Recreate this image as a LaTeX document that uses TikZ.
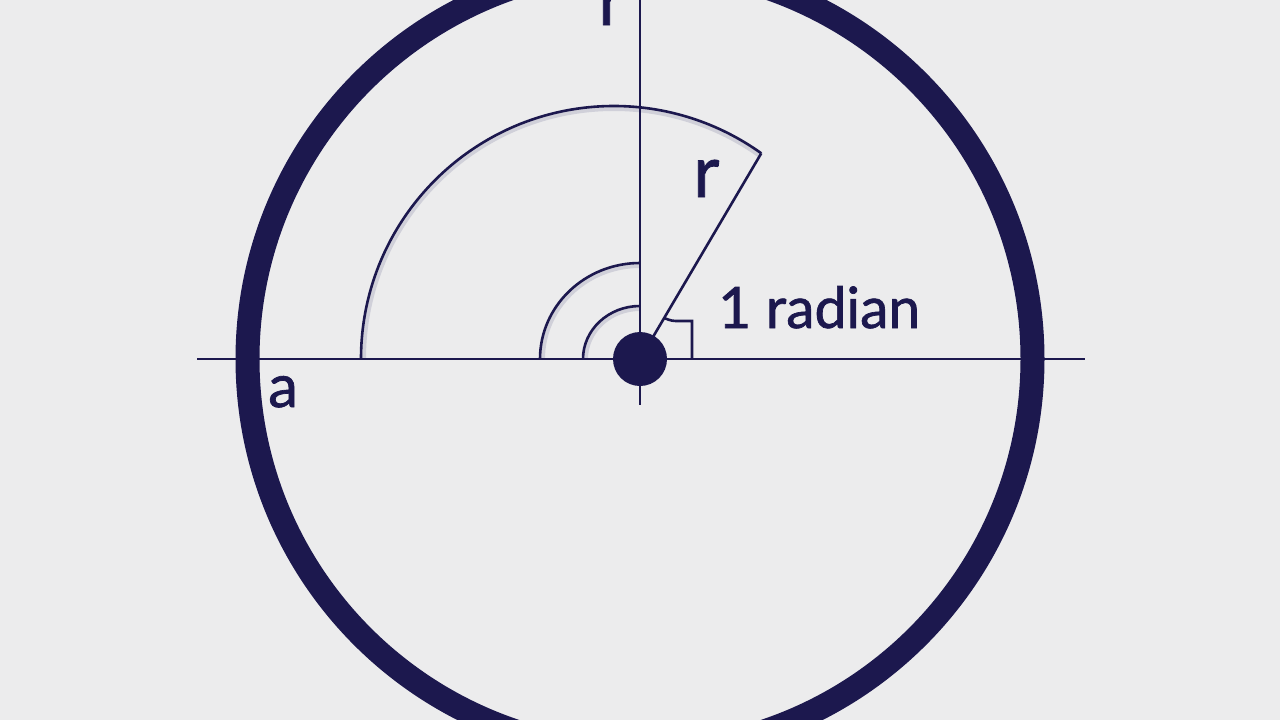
\documentclass[tikz,border=0pt]{standalone}
\usepackage{fontspec}
\usetikzlibrary{calc}
\setmainfont{Lato}
\newfontfamily\lblfont[FakeBold=1.2]{Lato}
\definecolor{navy}{RGB}{28,24,78}
\definecolor{bg}{RGB}{236,236,237}
\definecolor{shade}{RGB}{190,190,205}
\begin{document}
\begin{tikzpicture}[x=1pt,y=1pt,
  thin line/.style={draw=navy,line width=2.6pt},
  shadow line/.style={draw=shade,line width=4pt,opacity=0.6},
  lbl/.style={text=navy,inner sep=0pt,anchor=base west}]
\useasboundingbox (0,-720) rectangle (1280,0);
\fill[bg] (0,-720) rectangle (1280,0);
\clip (0,-720) rectangle (1280,0);
% key points
\coordinate (C) at (640,-359);
\coordinate (AL) at (197,-359);
\coordinate (AR) at (1085,-359);
\coordinate (VT) at (640,10);
\coordinate (VB) at (640,-405);
\coordinate (S0) at (361,-359);
\coordinate (M0) at (540,-359);
\coordinate (I0) at (583,-359);
% shadows
\draw[shadow line] ($(S0)+(3,0)$) arc[start angle=180,end angle=54.4,radius=250];
\draw[shadow line] ($(M0)+(3,0)$) arc[start angle=180,end angle=90,x radius=97,y radius=93];
\draw[shadow line] ($(I0)+(3,0)$) arc[start angle=180,end angle=90,x radius=54,y radius=50];
% axes
\draw[thin line] (AL) -- (AR);
\draw[thin line] (VT) -- (VB);
% big sector arc
\draw[thin line] (S0) arc[start angle=180,end angle=54.4,radius=253] coordinate (SE);
\draw[thin line] (C) -- (SE);
% small arcs
\draw[thin line] (M0) arc[start angle=180,end angle=90,x radius=100,y radius=96] coordinate (MT);
\draw[thin line] (I0) arc[start angle=180,end angle=90,x radius=57,y radius=53] coordinate (IT);
% angle marker
\coordinate (K0) at (664,-318);
\coordinate (K1) at (680,-321);
\coordinate (K2) at (692,-321);
\coordinate (K3) at (692,-359);
\draw[thin line] (K0) .. controls (672,-321) .. (K1) -- (K2) -- (K3);
% big circle
\draw[navy,line width=24pt] (C) circle[radius=392.5];
% center dot
\fill[navy] (C) circle[radius=27];
% labels
\node[lbl,font=\lblfont\fontsize{72}{72}\selectfont] (rtop) at (598,-25) {r};
\node[lbl,font=\lblfont\fontsize{72}{72}\selectfont] (rside) at (693,-197) {r};
\node[lbl,font=\lblfont\fontsize{60}{60}\selectfont] (a) at (268,-407) {a};
\node[lbl,font=\lblfont\fontsize{57}{57}\selectfont] (rad) at (718,-328) {1 radian};
\end{tikzpicture}
\end{document}
